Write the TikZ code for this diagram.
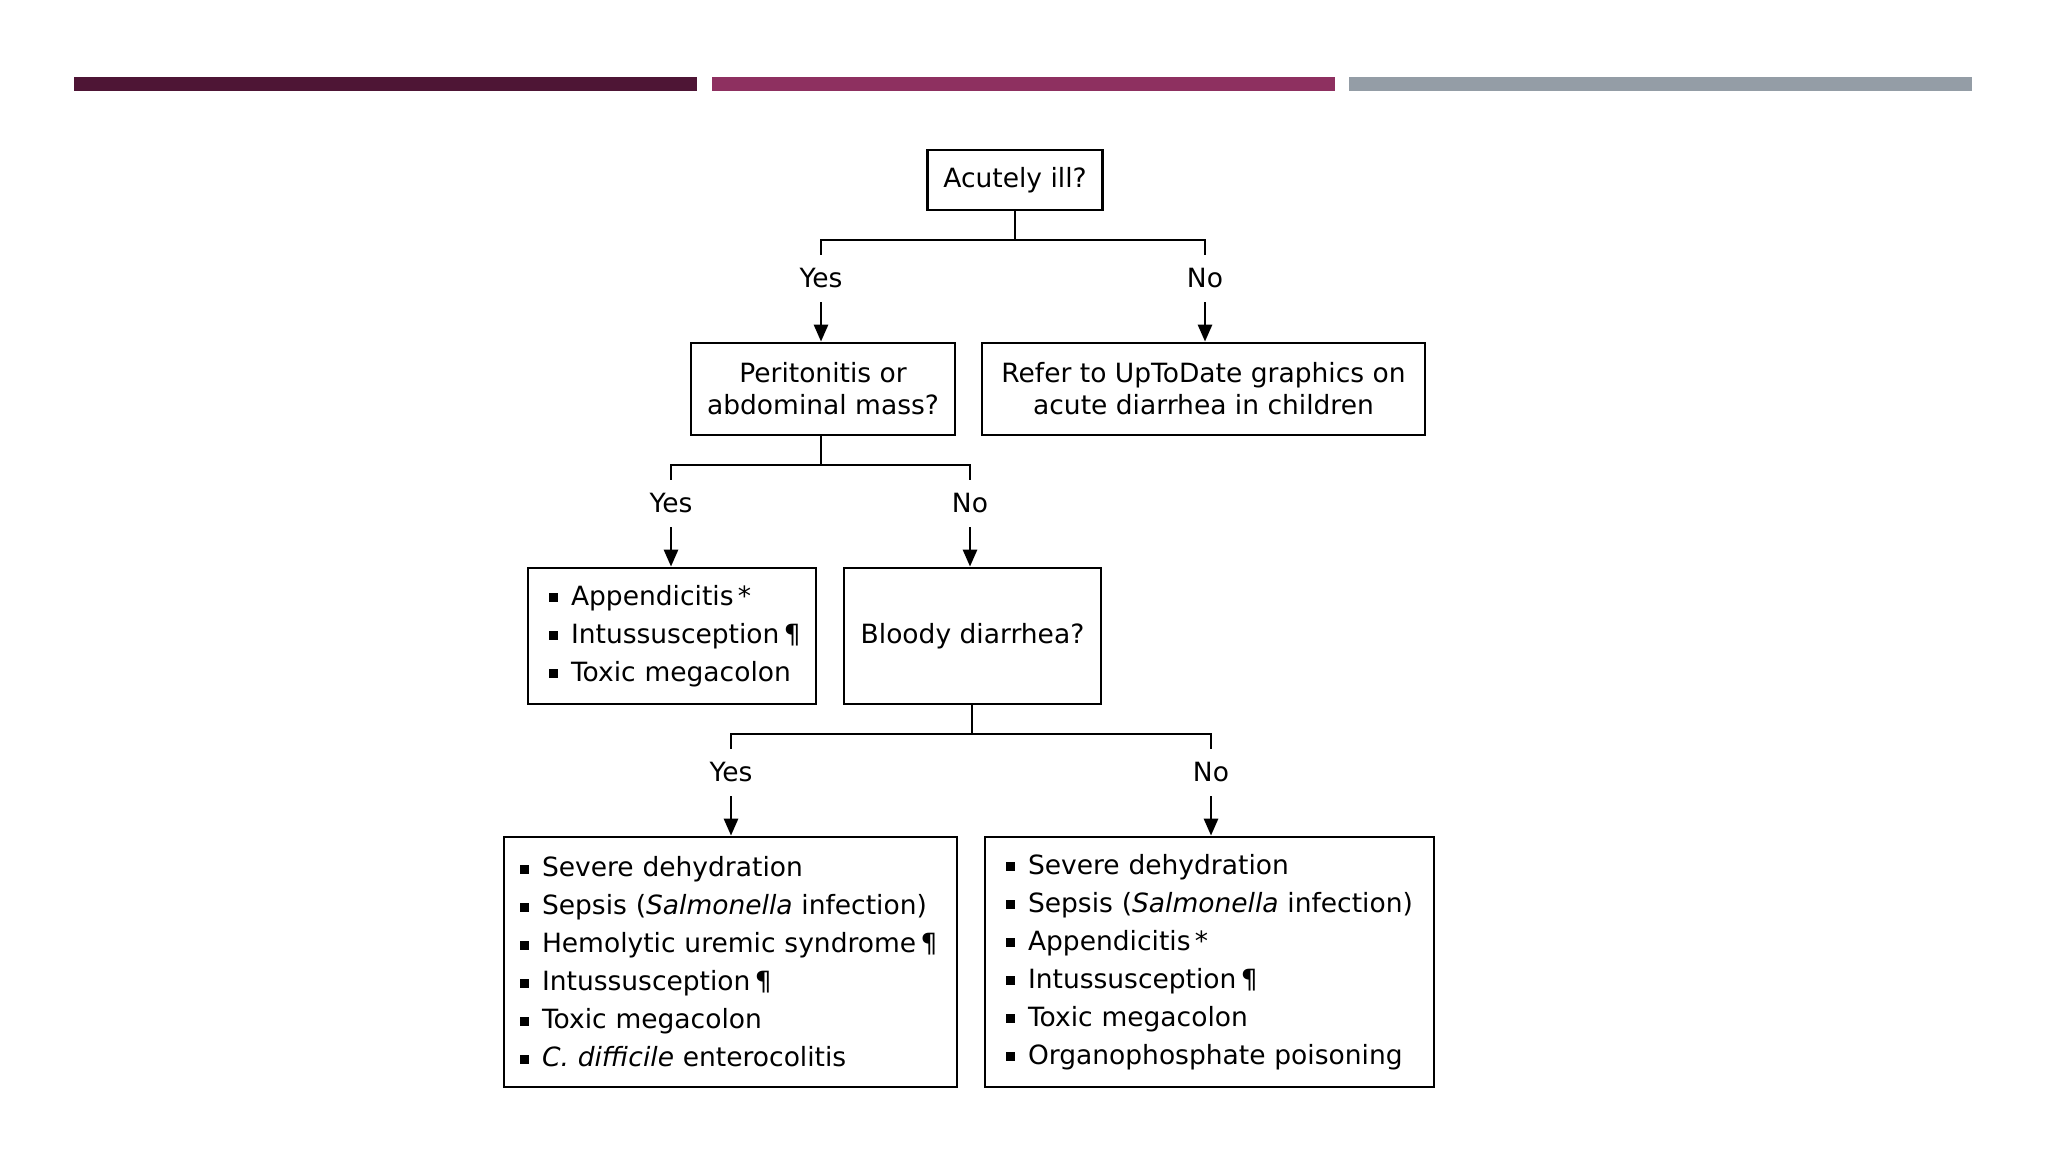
\documentclass[tikz,border=0pt]{standalone}
\usepackage{fontspec}
\setmainfont{DejaVu Sans}
\usetikzlibrary{arrows.meta}
\definecolor{barA}{HTML}{4E1535}
\definecolor{barB}{HTML}{8E3060}
\definecolor{barC}{HTML}{949DA6}
\newcommand{\bul}[1]{\mbox{\makebox[22pt][l]{\raisebox{3pt}{\rule{9pt}{9pt}}}#1}}
\begin{document}
\begin{tikzpicture}[x=1pt,y=-1pt,
  box/.style={draw,line width=2.8pt,inner sep=0pt,font=\fontsize{26.5}{38}\selectfont},
  lbox/.style={box,align=left},
  tbox/.style={box,font=\fontsize{26.5}{32}\selectfont,align=center},
  conn/.style={line width=2.8pt},
  arr/.style={line width=2.8pt,-{Triangle[length=17pt,width=14pt]}},
  lab/.style={font=\fontsize{26.5}{30}\selectfont,inner sep=0pt}]
\path[fill=white] (0,0) rectangle (2048,1152);
\useasboundingbox (0,0) rectangle (2048,1152);
% top bars
\fill[barA] (74,77) rectangle (697,91);
\fill[barB] (712,77) rectangle (1335,91);
\fill[barC] (1349,77) rectangle (1972,91);
% nodes
\node[box,minimum width=175pt,minimum height=60pt] (q1) at (1015,180) {Acutely ill?};
\node[tbox,minimum width=264pt,minimum height=92pt] (q2) at (823,389) {Peritonitis or\\abdominal mass?};
\node[tbox,minimum width=443pt,minimum height=92pt] (ref) at (1203.5,389) {Refer to UpToDate graphics on\\acute diarrhea in children};
\node[lbox,inner xsep=21pt,text width=246pt,minimum height=136pt] (app) at (672,636)
  {\bul{Appendicitis\,*}\\\bul{Intussusception\,¶}\\\bul{Toxic megacolon}};
\node[box,minimum width=257pt,minimum height=136pt] (bd) at (972.5,636) {Bloody diarrhea?};
\node[lbox,inner xsep=16pt,text width=421pt,minimum height=250pt] (bl) at (730.5,962)
  {\bul{Severe dehydration}\\\bul{Sepsis (\textit{Salmonella} infection)}\\\bul{Hemolytic uremic syndrome\,¶}\\\bul{Intussusception\,¶}\\\bul{Toxic megacolon}\\\bul{\textit{C. difficile} enterocolitis}};
\node[lbox,inner xsep=21pt,text width=407pt,minimum height=250pt] (br) at (1209.5,962)
  {\bul{Severe dehydration}\\\bul{Sepsis (\textit{Salmonella} infection)}\\\bul{Appendicitis\,*}\\\bul{Intussusception\,¶}\\\bul{Toxic megacolon}\\\bul{Organophosphate poisoning}};
% labels
\node[lab] (y1) at (821,278) {Yes};
\node[lab] (n1) at (1205,278) {No};
\node[lab] (y2) at (671,503) {Yes};
\node[lab] (n2) at (970,503) {No};
\node[lab] (y3) at (731,772) {Yes};
\node[lab] (n3) at (1211,772) {No};
% connectors level 1
\coordinate (j1) at (q1.south |- 0,240);
\draw[conn] (q1.south) -- (j1);
\draw[conn] ([yshift=13pt]y1.north) -- (y1.north |- j1) -- (n1.north |- j1) -- ([yshift=13pt]n1.north);
\draw[arr] ([yshift=-14pt]y1.south) -- (y1.south |- q2.north);
\draw[arr] ([yshift=-14pt]n1.south) -- (n1.south |- ref.north);
% level 2
\coordinate (j2) at (821,465);
\draw[conn] (q2.south -| j2) -- (j2);
\draw[conn] ([yshift=13pt]y2.north) -- (y2.north |- j2) -- (n2.north |- j2) -- ([yshift=13pt]n2.north);
\draw[arr] ([yshift=-14pt]y2.south) -- (y2.south |- app.north);
\draw[arr] ([yshift=-14pt]n2.south) -- (n2.south |- bd.north);
% level 3
\coordinate (j3) at (972,734);
\draw[conn] (bd.south -| j3) -- (j3);
\draw[conn] ([yshift=13pt]y3.north) -- (y3.north |- j3) -- (n3.north |- j3) -- ([yshift=13pt]n3.north);
\draw[arr] ([yshift=-14pt]y3.south) -- (y3.south |- bl.north);
\draw[arr] ([yshift=-14pt]n3.south) -- (n3.south |- br.north);
\end{tikzpicture}
\end{document}
